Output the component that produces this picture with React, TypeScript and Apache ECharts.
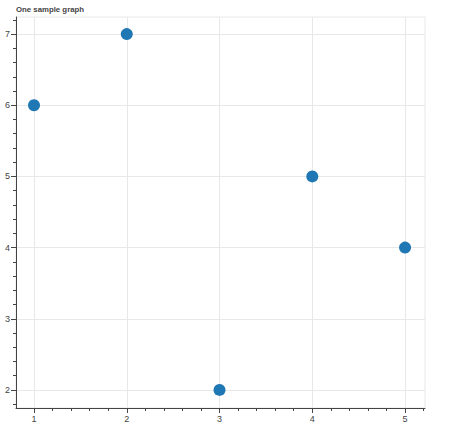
import { useEffect, useRef } from 'react';
import * as echarts from 'echarts';

// data
const xValues = [1, 2, 3, 4, 5];
const yValues = [6, 7, 2, 5, 4];
const xTicks = [1, 2, 3, 4, 5];
const yTicks = [2, 3, 4, 5, 6, 7];
const xMinorTicks = [0.8, 1.2, 1.4, 1.6, 1.8, 2.2, 2.4, 2.6, 2.8, 3.2, 3.4, 3.6, 3.8, 4.2, 4.4, 4.6, 4.8, 5.2];
const yMinorTicks = [1.8, 2.2, 2.4, 2.6, 2.8, 3.2, 3.4, 3.6, 3.8, 4.2, 4.4, 4.6, 4.8, 5.2, 5.4, 5.6, 5.8, 6.2, 6.4, 6.6, 6.8, 7.2];

const X_MIN = 0.806;
const X_MAX = 5.215;
const Y_MIN = 1.746;
const Y_MAX = 7.24;

const FONT = "Helvetica, Arial, 'Liberation Sans', sans-serif";
const AXIS_COLOR = '#444';
const GRID_COLOR = '#e8e8e8';

const App = () => {
    const chartRef = useRef<HTMLDivElement>(null);

    useEffect(() => {
        if (!chartRef.current) return;
        const chart = echarts.init(chartRef.current, undefined, { renderer: 'svg' });

        const majorAxis = (ticks: number[], min: number, max: number) => ({
            type: 'value' as const,
            min,
            max,
            axisLine: { show: true, lineStyle: { color: AXIS_COLOR, width: 1 } },
            axisTick: { show: true, length: 5, customValues: ticks, lineStyle: { color: AXIS_COLOR } },
            axisLabel: { customValues: ticks, color: AXIS_COLOR, fontSize: 9, fontFamily: FONT, margin: 6 },
            splitLine: { show: true, lineStyle: { color: GRID_COLOR, width: 1 } }
        });

        const minorAxis = (ticks: number[], min: number, max: number) => ({
            type: 'value' as const,
            min,
            max,
            axisLine: { show: false },
            axisTick: { show: true, length: 3, customValues: ticks, lineStyle: { color: AXIS_COLOR } },
            axisLabel: { show: false },
            splitLine: { show: false }
        });

        chart.setOption({
            animation: false,
            title: {
                text: 'One sample graph',
                left: 16,
                top: 5,
                padding: 0,
                textStyle: { fontSize: 7.8, fontWeight: 'bold', color: '#444', fontFamily: FONT }
            },
            grid: {
                left: 16,
                right: 49,
                top: 17,
                bottom: 32,
                show: true,
                borderColor: GRID_COLOR,
                borderWidth: 1
            },
            xAxis: [
                { ...majorAxis(xTicks, X_MIN, X_MAX), position: 'bottom' },
                { ...minorAxis(xMinorTicks, X_MIN, X_MAX), position: 'bottom' }
            ],
            yAxis: [
                { ...majorAxis(yTicks, Y_MIN, Y_MAX), position: 'left' },
                { ...minorAxis(yMinorTicks, Y_MIN, Y_MAX), position: 'left' }
            ],
            series: [
                {
                    type: 'scatter',
                    data: xValues.map((x, i) => [x, yValues[i]]),
                    symbolSize: 12,
                    itemStyle: { color: '#1f77b4', opacity: 1 }
                }
            ]
        });

        return () => {
            chart.dispose();
        };
    }, []);

    return (
        <div
            ref={chartRef}
            style={{ position: 'absolute', left: 0, top: 0, width: '474px', height: '440px' }}
        />
    );
};

export default App;
